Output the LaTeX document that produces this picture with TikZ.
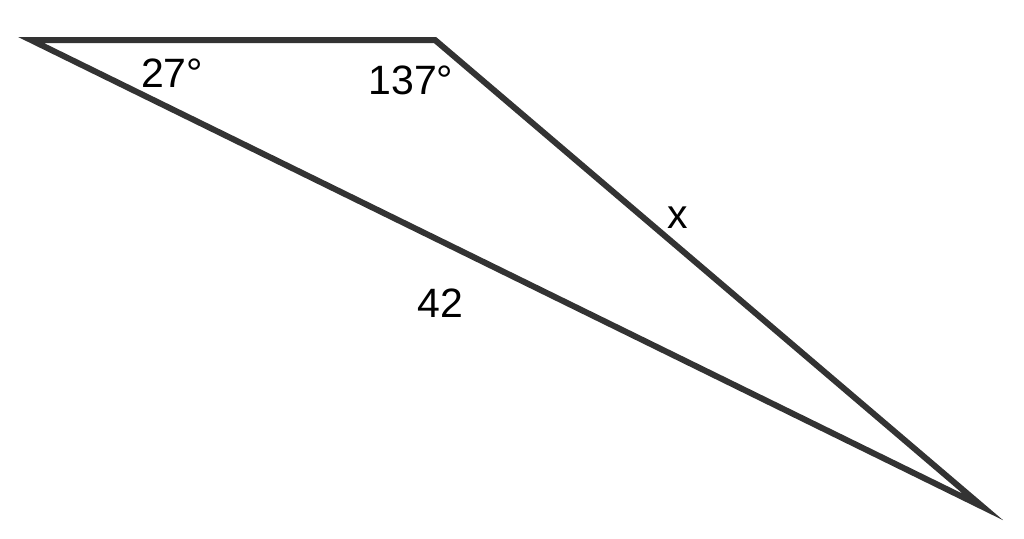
\documentclass[tikz,border=0pt]{standalone}
\usepackage{fontspec}
\setmainfont{Liberation Sans}
\definecolor{edge}{HTML}{333333}
\tikzset{
  side/.style={draw=edge, line width=6pt, line join=miter, miter limit=20},
  lbl/.style={inner sep=0pt, font=\fontsize{41}{49}\selectfont, text=black}
}
\begin{document}
\begin{tikzpicture}[x=1pt,y=-1pt]
\useasboundingbox (0,0) rectangle (1024,538);
\coordinate (A) at (31,40);
\coordinate (B) at (435,40);
\coordinate (C) at (983,507);
\draw[side] (A) -- (B) -- (C) -- cycle;
\node[lbl] (a27) at (172,73) {27°};
\node[lbl] (a137) at (411,80) {137°};
\node[lbl] (sx) at (678,218) {x};
\node[lbl] (s42) at (440,303) {42};
\end{tikzpicture}
\end{document}
